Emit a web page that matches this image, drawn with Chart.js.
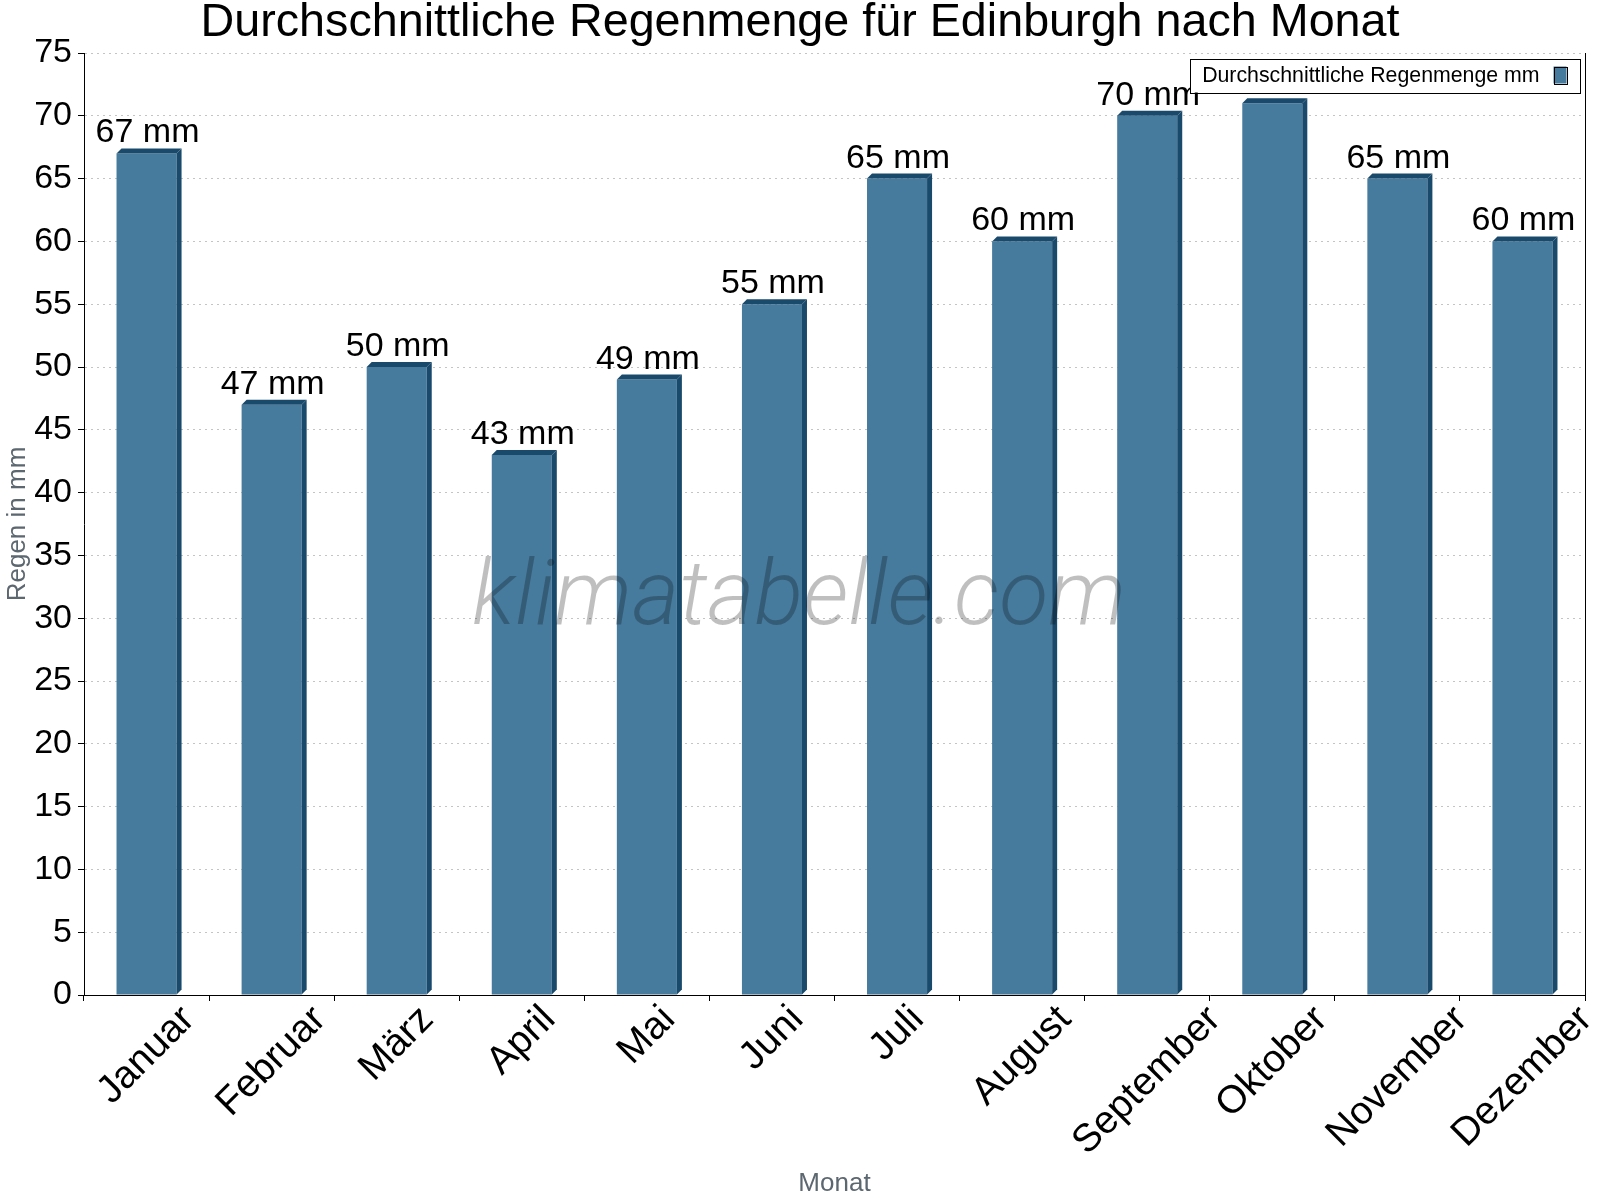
<!DOCTYPE html>
<html>
<head>
<meta charset="utf-8">
<script src="https://cdn.jsdelivr.net/npm/chart.js@4.4.1/dist/chart.umd.min.js"></script>
<style>
  html, body { margin: 0; padding: 0; background: #ffffff; }
  #wrap { width: 1600px; height: 1200px; position: relative; }
</style>
</head>
<body>
<div id="wrap"><canvas id="c" width="1600" height="1200"></canvas></div>
<script>
// ---- data ----
const months = ["Januar", "Februar", "März", "April", "Mai", "Juni", "Juli", "August", "September", "Oktober", "November", "Dezember"];
const rainMm = [67, 47, 50, 43, 49, 55, 65, 60, 70, 71, 65, 60];
const seriesLabel = "Durchschnittliche Regenmenge mm";
const chartTitle = "Durchschnittliche Regenmenge für Edinburgh nach Monat";
const yTitle = "Regen in mm";
const xTitle = "Monat";
const unitSuffix = " mm";
const watermark = "klimatabelle.com";

// ---- style ----
const FONT = "'Liberation Sans', Arial, sans-serif";
const FRONT = "#467b9e";
const DARK = "#1a4a6b";
const DEPTH = 5;

const bar3d = {
  id: 'bar3d',
  afterDatasetsDraw(chart) {
    const ctx = chart.ctx;
    const meta = chart.getDatasetMeta(0);
    ctx.save();
    ctx.fillStyle = DARK;
    meta.data.forEach(bar => {
      const p = bar.getProps(['x', 'y', 'base', 'width'], true);
      const l = p.x - p.width / 2, r = p.x + p.width / 2, d = DEPTH;
      ctx.beginPath();
      ctx.moveTo(l, p.y); ctx.lineTo(l + d, p.y - d); ctx.lineTo(r + d, p.y - d); ctx.lineTo(r, p.y);
      ctx.closePath(); ctx.fill();
      ctx.beginPath();
      ctx.moveTo(r, p.y); ctx.lineTo(r + d, p.y - d); ctx.lineTo(r + d, p.base - d); ctx.lineTo(r, p.base);
      ctx.closePath(); ctx.fill();
    });
    ctx.restore();
  },
  afterDraw(chart) {
    const ctx = chart.ctx;
    const area = chart.chartArea;
    const meta = chart.getDatasetMeta(0);
    const xs = chart.scales.x;

    // right border of plot area
    ctx.save();
    ctx.strokeStyle = '#000'; ctx.lineWidth = 1;
    ctx.beginPath(); ctx.moveTo(Math.round(area.right) + 0.5, area.top); ctx.lineTo(Math.round(area.right) + 0.5, area.bottom); ctx.stroke();
    ctx.restore();

    // legend geometry
    const LFS = 21.3;
    ctx.save();
    ctx.font = LFS + "px " + FONT;
    const tw = ctx.measureText(seriesLabel).width;
    const lgW = 12 + tw + 14 + 14 + 13, lgH = 34;
    const lgR = area.right - 4.5, lgT = area.top + 5.5, lgL = lgR - lgW;
    ctx.restore();

    // data labels
    ctx.save();
    ctx.font = "34px " + FONT;
    ctx.fillStyle = '#000';
    ctx.textAlign = 'center';
    ctx.textBaseline = 'alphabetic';
    meta.data.forEach((bar, i) => {
      const txt = rainMm[i] + unitSuffix;
      const w = ctx.measureText(txt).width;
      const cx = bar.x + 1, by = bar.y - DEPTH - 6;
      const l = cx - w / 2, r = cx + w / 2, t = by - 26;
      const ox = Math.max(0, Math.min(r, lgR) - Math.max(l, lgL));
      const oy = (by > lgT && t < lgT + lgH);
      if (oy && ox > w * 0.5) return;
      ctx.fillText(txt, cx, by);
    });
    ctx.restore();

    // x tick labels (rotated, centred on category)
    ctx.save();
    const fs = 39;
    ctx.font = fs + "px " + FONT;
    ctx.fillStyle = '#000';
    ctx.textAlign = 'center';
    ctx.textBaseline = 'middle';
    months.forEach((m, i) => {
      const w = ctx.measureText(m).width;
      const cx = xs.getPixelForTick(i);
      const cy = area.bottom + 8 + (w + fs * 0.75) * Math.SQRT1_2 / 2;
      ctx.save();
      ctx.translate(cx, cy);
      ctx.rotate(-Math.PI / 4);
      ctx.fillText(m, 0, 0);
      ctx.restore();
    });
    ctx.restore();

    // watermark
    ctx.save();
    ctx.font = "italic 300 100px Roboto";
    const ww = ctx.measureText(watermark).width;
    const wfs = 100 * 654 / ww;
    ctx.font = "italic 300 " + wfs.toFixed(1) + "px Roboto";
    ctx.fillStyle = 'rgba(0,0,0,0.25)';
    ctx.textAlign = 'left';
    ctx.textBaseline = 'alphabetic';
    ctx.fillText(watermark, 472, 624);
    ctx.restore();

    // legend
    ctx.save();
    ctx.fillStyle = '#fff';
    ctx.fillRect(lgL, lgT, lgW, lgH);
    ctx.strokeStyle = '#000'; ctx.lineWidth = 1;
    ctx.strokeRect(Math.round(lgL) + 0.5, Math.round(lgT) + 0.5, Math.round(lgW), lgH);
    ctx.font = LFS + "px " + FONT;
    ctx.fillStyle = '#000';
    ctx.textBaseline = 'alphabetic';
    ctx.fillText(seriesLabel, lgL + 12, lgT + 23.5);
    const sx = lgL + 12 + tw + 14;
    ctx.fillStyle = FRONT;
    ctx.fillRect(sx, lgT + 8, 13, 17);
    ctx.strokeRect(Math.round(sx) + 0.5, Math.round(lgT + 8) + 0.5, 13, 17);
    ctx.restore();
  }
};

new Chart(document.getElementById('c'), {
  type: 'bar',
  data: {
    labels: months,
    datasets: [{
      label: seriesLabel,
      data: rainMm,
      backgroundColor: FRONT,
      borderWidth: 0,
      barPercentage: 0.48,
      categoryPercentage: 1.0
    }]
  },
  options: {
    responsive: false,
    animation: false,
    devicePixelRatio: 1,
    layout: { padding: { left: 0, right: 0, top: 0, bottom: 0 } },
    plugins: {
      legend: { display: false },
      tooltip: { enabled: false },
      title: {
        display: true,
        text: chartTitle,
        color: '#000',
        font: { family: FONT, size: 46.7, weight: 'normal', lineHeight: 1 },
        padding: { top: 0, bottom: 6.3 }
      }
    },
    scales: {
      x: {
        afterFit: s => { s.height = 205; },
        grid: { display: true, offset: true, drawOnChartArea: false, drawTicks: true, tickLength: 6, color: '#000', tickColor: '#000' },
        border: { display: true, color: '#000', width: 1 },
        ticks: { display: false },
        title: { display: true, text: xTitle, color: '#5c6770', font: { family: FONT, size: 26, lineHeight: 1 }, padding: { top: 0, bottom: 3 } }
      },
      y: {
        min: 0, max: 75,
        afterFit: s => { s.width = 84; },
        ticks: { stepSize: 5, color: '#000', font: { family: FONT, size: 34 }, padding: 6 },
        grid: { color: '#c4c4c4', tickColor: '#000', tickLength: 6, drawTicks: true },
        border: { display: true, color: '#000', width: 1, dash: [2, 4] },
        title: { display: true, text: yTitle, color: '#5c6770', font: { family: FONT, size: 26, lineHeight: 1 }, padding: { top: 5, bottom: 0 } }
      },
      yRight: {
        position: 'right',
        display: true,
        min: 0, max: 75,
        afterFit: s => { s.width = 15; },
        grid: { display: false },
        border: { display: false },
        ticks: { display: false }
      }
    }
  },
  plugins: [bar3d]
});
</script>
</body>
</html>
